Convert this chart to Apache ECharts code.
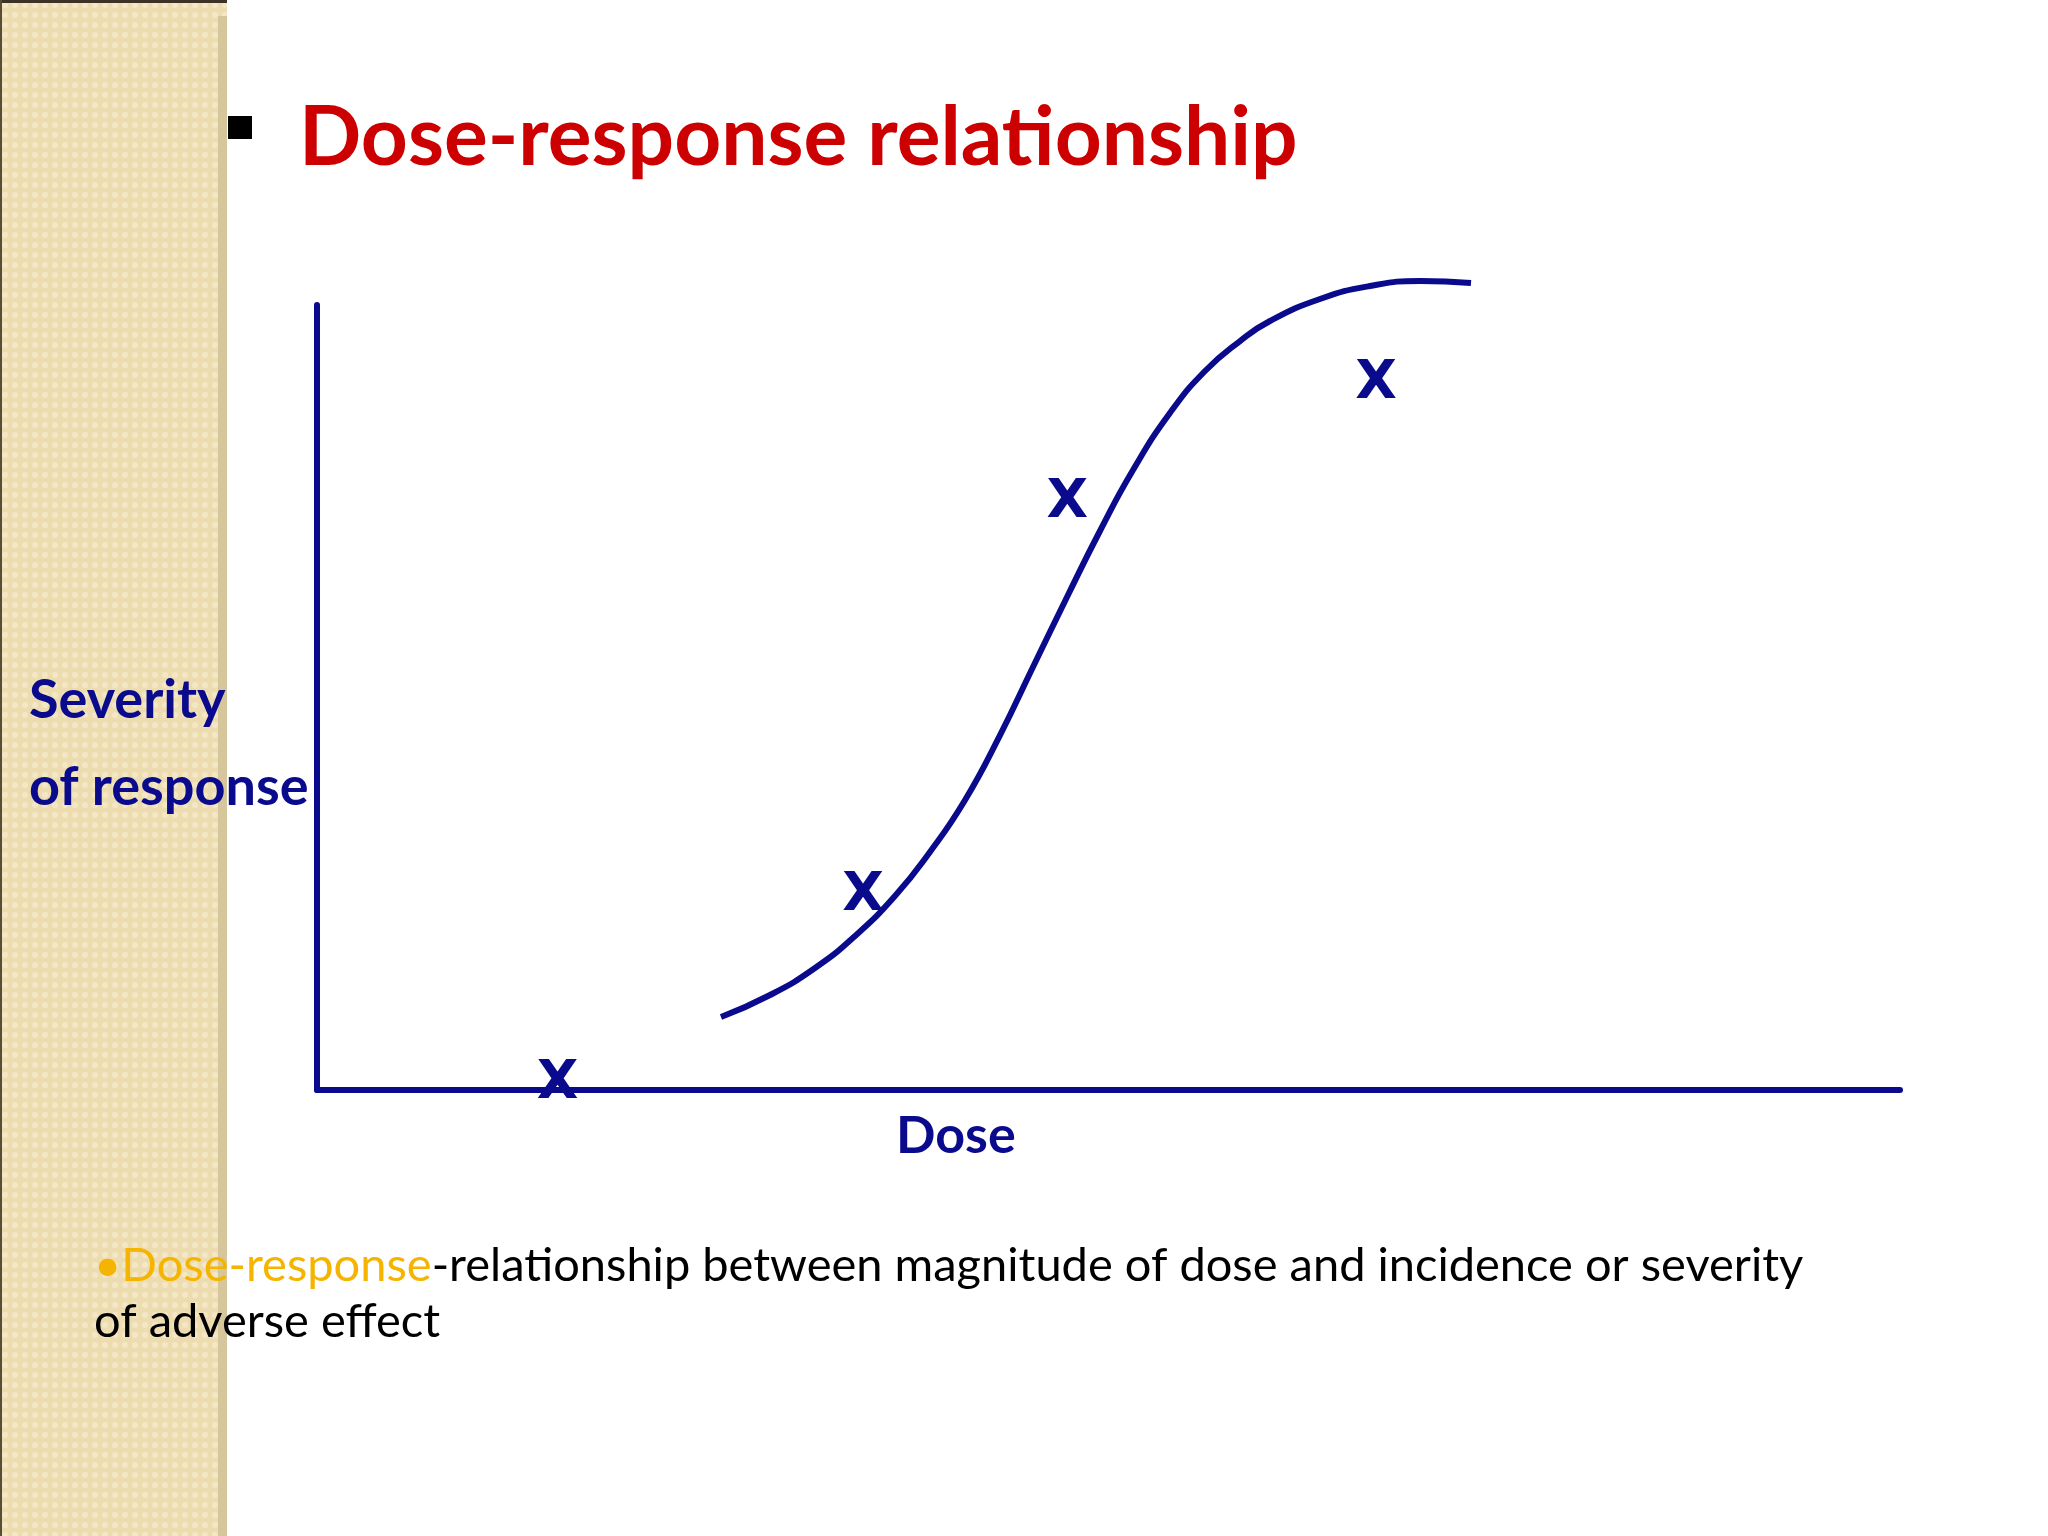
<!DOCTYPE html>
<html>
<head>
<meta charset="utf-8">
<script src="https://cdn.jsdelivr.net/npm/echarts@6/dist/echarts.min.js"></script>
<style>
    html, body {margin: 0; padding: 0; background: #fff;}
    #doseChart {width: 2048px; height: 1536px;}
</style>
</head>
<body>
<div id="doseChart"></div>
<script>
    // dose-response curve (dose 0-100, severity 0-100)
    var curveDose = [25.52, 28.62, 31.46, 33.99, 36.51, 38.72, 40.94, 43.15, 45.23, 47.38,
        49.46, 51.55, 53.88, 56.10, 58.31, 60.20, 63.36, 66.52, 69.68, 72.90];
    var curveSeverity = [9.30, 12.10, 15.54, 19.62, 24.71, 30.32, 36.94, 45.22, 53.89, 62.80,
        71.21, 78.98, 86.24, 91.59, 95.41, 97.96, 100.76, 102.42, 103.06, 102.80];
    // observed points (the X marks)
    var obsDose = [15.2, 34.5, 47.4, 66.9];
    var obsSeverity = [1.4, 25.4, 75.4, 90.6];

    var navy = '#0a0a8c';

    // little dotted texture for the left strip
    var tex = document.createElement('canvas');
    tex.width = 10;
    tex.height = 10;
    var tc = tex.getContext('2d');
    tc.fillStyle = '#ecdcb0';
    tc.fillRect(0, 0, 10, 10);
    tc.fillStyle = '#f3e7c6';
    tc.beginPath();
    tc.arc(5, 5, 3, 0, Math.PI * 2);
    tc.fill();

    var curveData = [], obsData = [];
    for (var i = 0; i < curveDose.length; i++) {
        curveData.push([curveDose[i], curveSeverity[i]]);
    }
    for (var j = 0; j < obsDose.length; j++) {
        obsData.push([obsDose[j], obsSeverity[j]]);
    }

    var chart = echarts.init(document.getElementById('doseChart'));
    var option = {
        animation: false,
        backgroundColor: '#ffffff',
        grid: {left: 317, top: 305, width: 1583, height: 785},
        xAxis: {
            type: 'value', min: 0, max: 100,
            axisLine: {show: true, onZero: false, lineStyle: {color: navy, width: 6}},
            axisTick: {show: false}, axisLabel: {show: false}, splitLine: {show: false}
        },
        yAxis: {
            type: 'value', min: 0, max: 100,
            axisLine: {show: true, onZero: false, lineStyle: {color: navy, width: 6}},
            axisTick: {show: false}, axisLabel: {show: false}, splitLine: {show: false}
        },
        series: [
            {
                type: 'line',
                data: curveData,
                smooth: 0.5,
                clip: false,
                symbol: 'none',
                lineStyle: {color: navy, width: 6}
            },
            {
                type: 'scatter',
                data: obsData,
                symbolSize: 1,
                itemStyle: {color: 'transparent', opacity: 1},
                z: 5,
                label: {
                    show: true, position: 'inside', formatter: 'X', offset: [0, 5],
                    fontFamily: 'DejaVu Sans', fontWeight: 'bold', fontSize: 54, color: navy,
                    opacity: 1, textBorderWidth: 0
                }
            }
        ],
        graphic: [
            // left decorative strip
            {type: 'rect', z: -10, shape: {x: 0, y: 0, width: 227, height: 1536}, style: {fill: {image: tex, repeat: 'repeat'}}},
            {type: 'rect', z: -9, shape: {x: 218, y: 16, width: 9, height: 1520}, style: {fill: '#d6c69c'}},
            {type: 'rect', z: -9, shape: {x: 0, y: 0, width: 227, height: 3}, style: {fill: '#3b3326'}},
            {type: 'rect', z: -9, shape: {x: 0, y: 0, width: 2, height: 1536}, style: {fill: '#5a4d36'}},
            // title
            {type: 'rect', shape: {x: 228, y: 116, width: 24, height: 23}, style: {fill: '#000'}},
            {
                type: 'text', left: 299, top: 98,
                style: {text: 'Dose-response relationship', fill: '#cc0000', font: 'bold 82px Lato'}
            },
            // axis titles
            {
                type: 'text', left: 29, top: 674, z: 10,
                style: {text: 'Severity', fill: navy, font: 'bold 54px Lato'}
            },
            {
                type: 'text', left: 29, top: 761, z: 10,
                style: {text: 'of response', fill: navy, font: 'bold 54px Lato'}
            },
            {
                type: 'text', left: 896, top: 1110, z: 10,
                style: {text: 'Dose', fill: navy, font: 'bold 52px Lato'}
            },
            // note under the chart
            {
                type: 'text', left: 94, top: 1242, z: 10,
                style: {
                    text: '{o|•Dose-response}-relationship between magnitude of dose and incidence or severity\n{n|of adverse effect}',
                    fill: '#000', font: '47px Lato',
                    rich: {
                        o: {fill: '#f5b400', font: '47px Lato', lineHeight: 56},
                        n: {fill: '#000', font: '47px Lato', lineHeight: 56}
                    }
                }
            }
        ]
    };
    chart.setOption(option);
</script>
</body>
</html>
